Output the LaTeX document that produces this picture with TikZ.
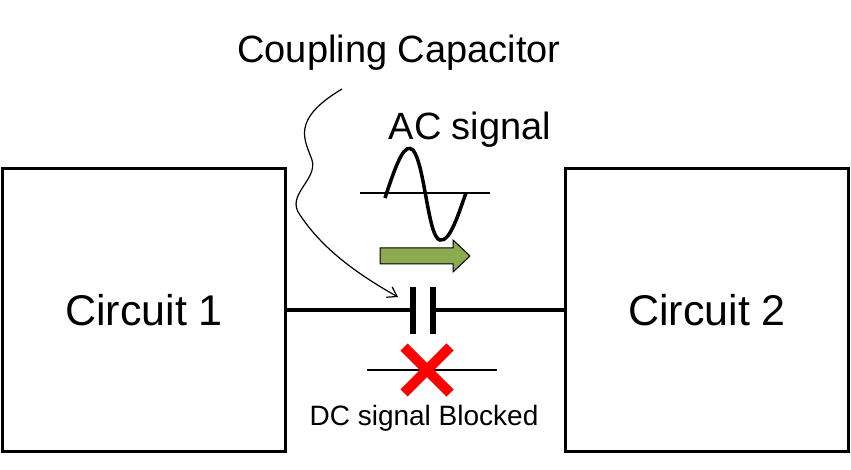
\documentclass[tikz,border=0pt]{standalone}
\usepackage{fontspec}
\setmainfont{Liberation Sans}
\usetikzlibrary{arrows.meta,calc}
\begin{document}
\begin{tikzpicture}[x=1pt,y=-1pt,
  box/.style={draw,line width=2.5pt,minimum width=283pt,minimum height=283pt,inner sep=0pt,font=\fontsize{43}{46}\selectfont},
  wire/.style={line width=4.5pt},
  thin/.style={line width=1.2pt},
  big/.style={font=\fontsize{38}{42}\selectfont}]
\useasboundingbox (0,0) rectangle (851,470);
\node[box] (c1) at (144,310) {Circuit 1};
\node[box] (c2) at (707,310) {Circuit 2};
\coordinate (p1t) at (413,287); \coordinate (p1b) at (413,334);
\coordinate (p2t) at (433,287); \coordinate (p2b) at (433,334);
\draw[line width=6pt] (p1t) -- (p1b) (p2t) -- (p2b);
\coordinate (w1) at (413,310); \coordinate (w2) at (433,310);
\draw[wire] (c1.east |- w1) -- (w1);
\draw[wire] (w2) -- (c2.west |- w2);
\node[big] (cc) at (399,53) {Coupling Capacitor};
\coordinate (ct) at (398,297);
\draw[thin,-{Straight Barb[length=9pt,width=12pt]}] (342,89) .. controls (290,120) and (305,140) .. (312,160) .. controls (318,180) and (285,195) .. (300,215) .. controls (320,245) and (350,270) .. (ct);
\node[big] (ac) at (470,130) {AC signal};
\draw[thin] (360,193) -- (490,193);
\draw[line width=3.5pt] (385,198) .. controls (398,158) and (405,143) .. (413,150) .. controls (425,165) and (428,238) .. (440,240) .. controls (450,242) and (458,215) .. (466,193);
\draw[line width=1pt,fill={rgb,255:red,140;green,170;blue,80}] (380,248) -- (453,248) -- (453,240) -- (470,256) -- (453,272) -- (453,264) -- (380,264) -- cycle;
\draw[thin] (367,370) -- (497,370);
\coordinate (x0) at (427,370);
\draw[red,line width=10pt] ($(x0)+(-23,-23)$) -- ($(x0)+(23,23)$) ($(x0)+(-23,23)$) -- ($(x0)+(23,-23)$);
\node[font=\fontsize{28}{30}\selectfont] (dc) at (424,418) {DC signal Blocked};
\end{tikzpicture}
\end{document}
